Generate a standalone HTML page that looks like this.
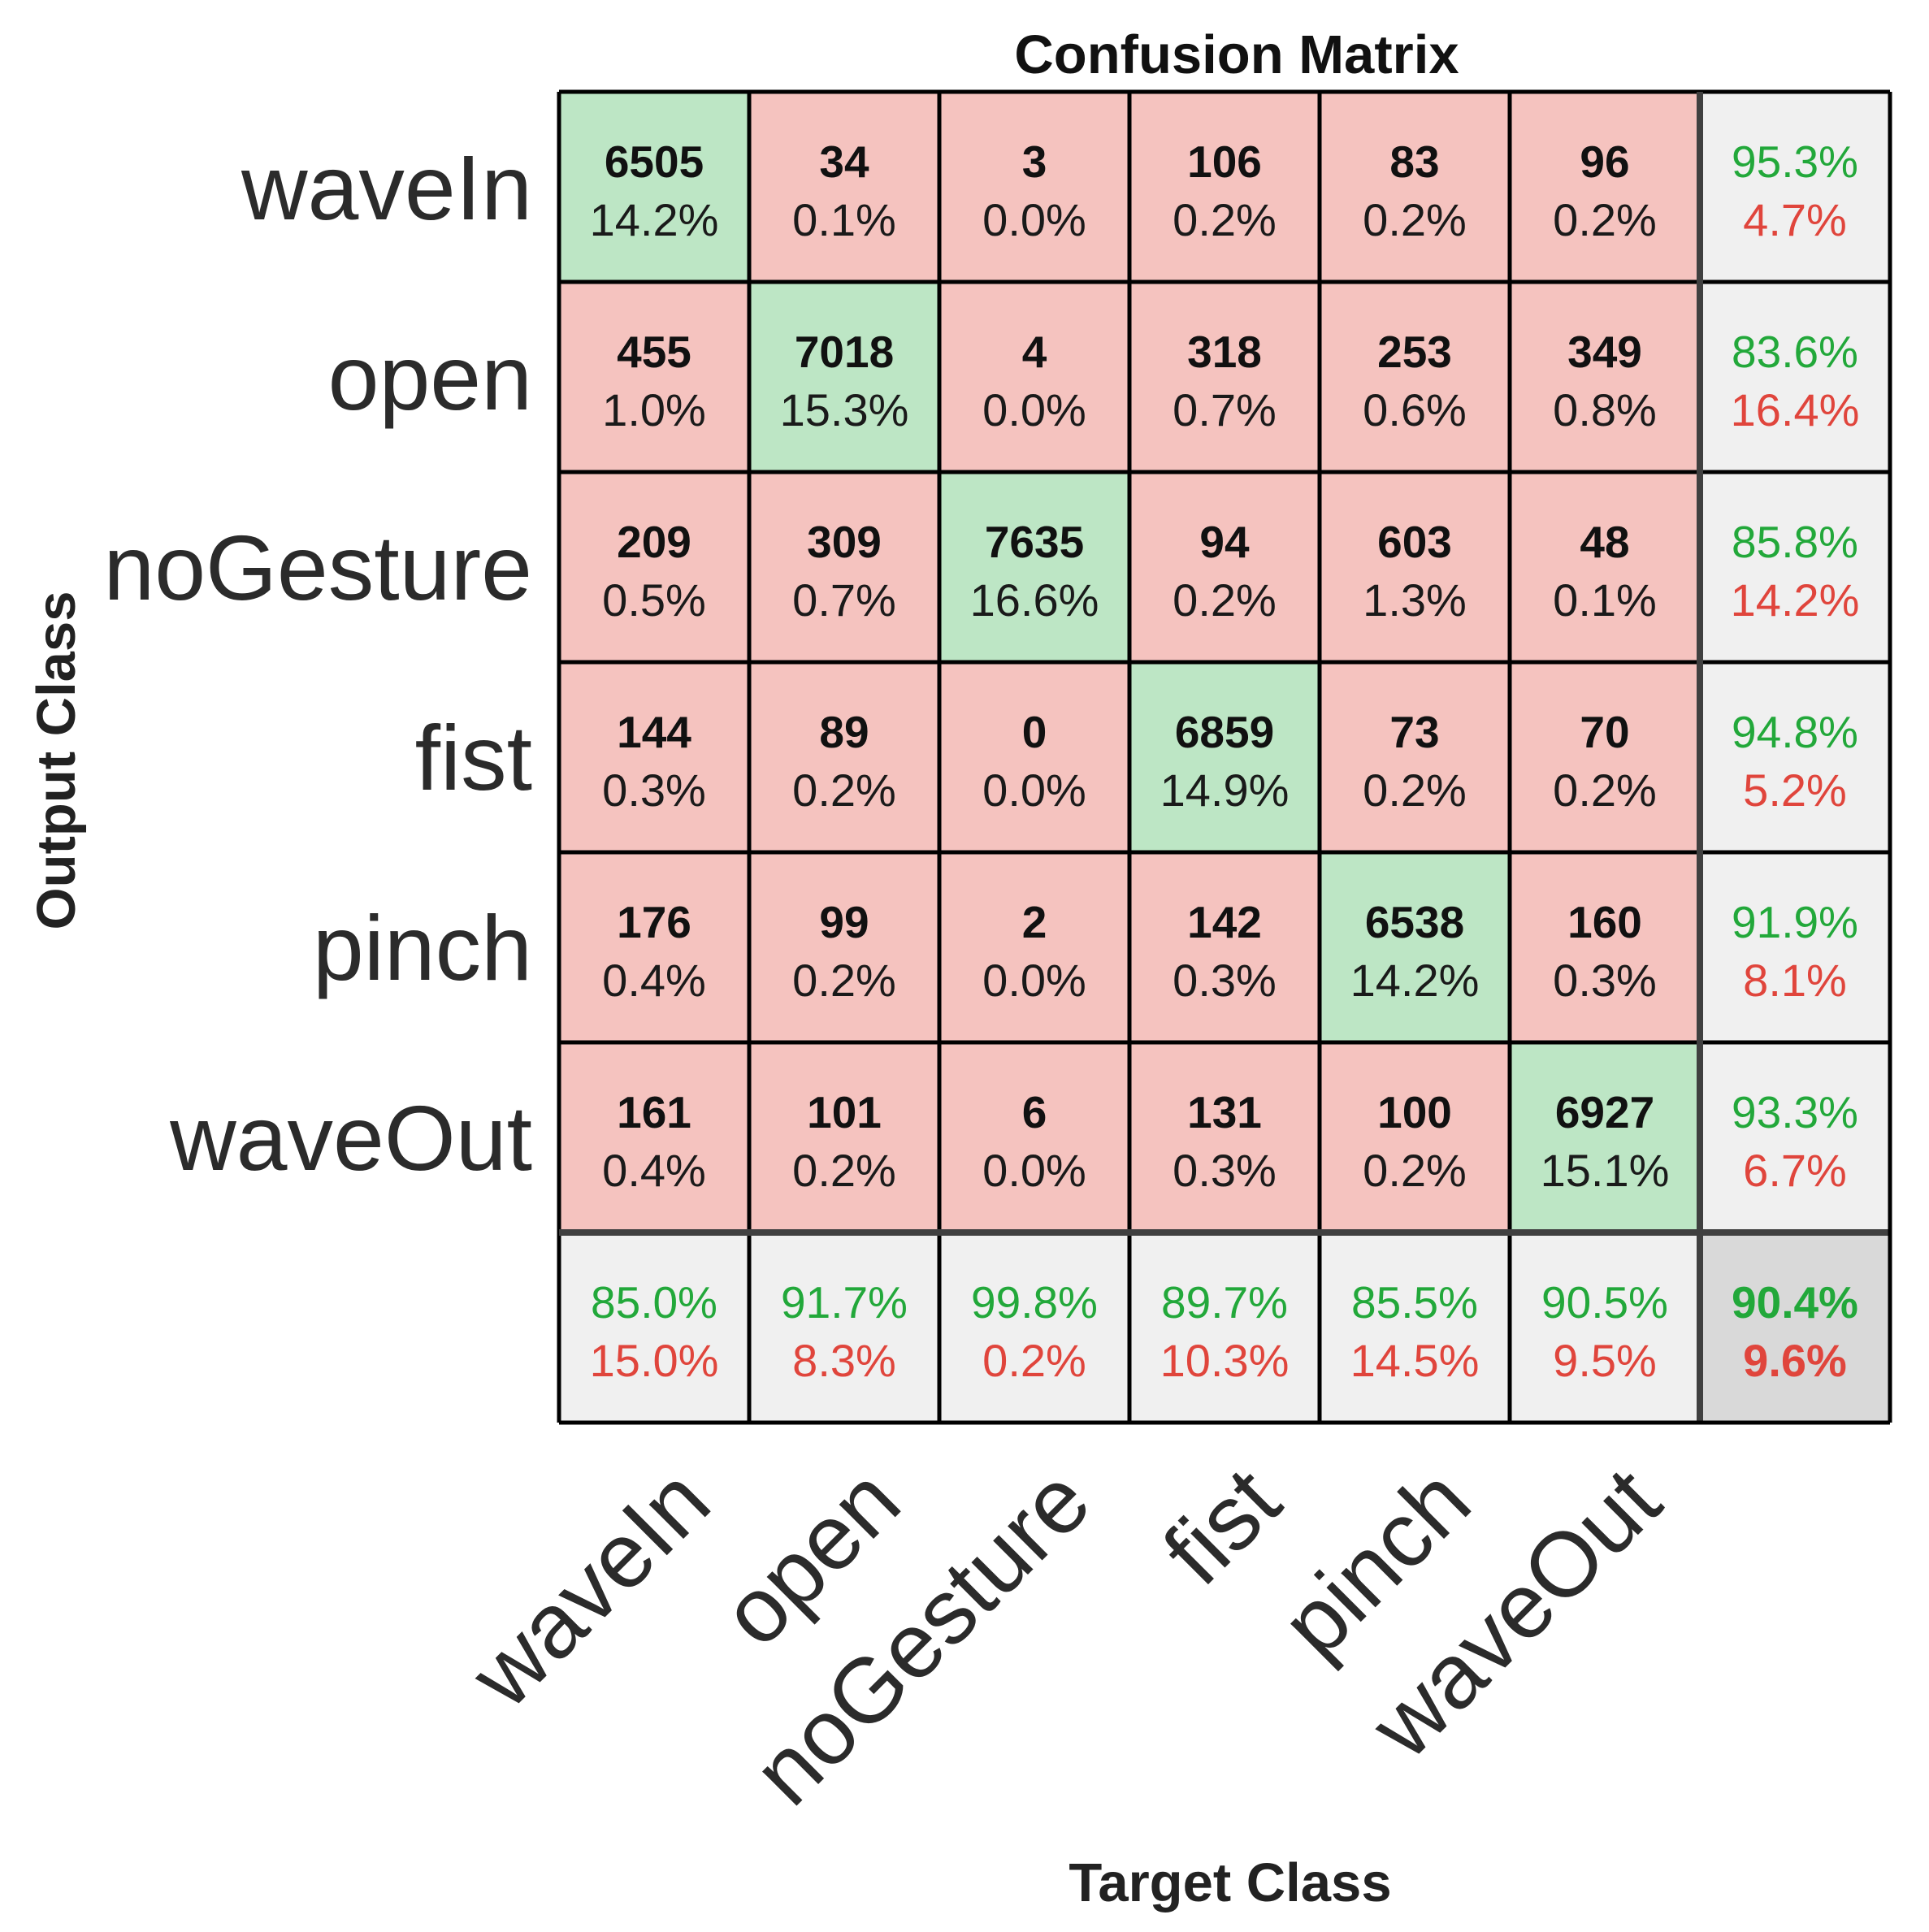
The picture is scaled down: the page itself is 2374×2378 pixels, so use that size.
<!DOCTYPE html>
<html><head><meta charset="utf-8"><style>html,body{margin:0;padding:0;background:#fff}svg{display:block}</style></head>
<body>
<svg id="chart" width="2374" height="2378" viewBox="0 0 2374 2378" xmlns="http://www.w3.org/2000/svg" font-family="Liberation Sans, Arial, sans-serif">
<text x="1522" y="90" font-size="67" font-weight="bold" text-anchor="middle" fill="#111">Confusion Matrix</text>
<text transform="translate(92,936) rotate(-90)" font-size="67" font-weight="bold" text-anchor="middle" fill="#222">Output Class</text>
<text x="1514" y="2340" font-size="67" font-weight="bold" text-anchor="middle" fill="#222">Target Class</text>
<g id="cells"></g>
<g id="lines"></g>
<g id="labels"></g>
</svg>
<script>
const classes = ["waveIn","open","noGesture","fist","pinch","waveOut"];
const counts = [
 [6505,34,3,106,83,96],
 [455,7018,4,318,253,349],
 [209,309,7635,94,603,48],
 [144,89,0,6859,73,70],
 [176,99,2,142,6538,160],
 [161,101,6,131,100,6927]
];
const cellPct = [
 ["14.2%","0.1%","0.0%","0.2%","0.2%","0.2%"],
 ["1.0%","15.3%","0.0%","0.7%","0.6%","0.8%"],
 ["0.5%","0.7%","16.6%","0.2%","1.3%","0.1%"],
 ["0.3%","0.2%","0.0%","14.9%","0.2%","0.2%"],
 ["0.4%","0.2%","0.0%","0.3%","14.2%","0.3%"],
 ["0.4%","0.2%","0.0%","0.3%","0.2%","15.1%"]
];
const rowGood = ["95.3%","83.6%","85.8%","94.8%","91.9%","93.3%"];
const rowBad = ["4.7%","16.4%","14.2%","5.2%","8.1%","6.7%"];
const colGood = ["85.0%","91.7%","99.8%","89.7%","85.5%","90.5%"];
const colBad = ["15.0%","8.3%","0.2%","10.3%","14.5%","9.5%"];
const totalGood = "90.4%";
const totalBad = "9.6%";

const NS = "http://www.w3.org/2000/svg";
const X0 = 688, Y0 = 113, C = 234, N = classes.length;
const xPos = i => X0 + i * C;
const yPos = i => Y0 + i * C;
const GREEN = "#22a83a", RED = "#e0453c";
function mk(tag, attrs, parent, txt){
  const e = document.createElementNS(NS, tag);
  for (const k in attrs) e.setAttribute(k, attrs[k]);
  if (txt !== undefined) e.textContent = txt;
  parent.appendChild(e); return e;
}
const gC = document.getElementById("cells"), gL = document.getElementById("lines"), gT = document.getElementById("labels");
function cell(r, c, fill, l1, l2, col1, col2, bold1, bold2, name){
  const x = xPos(c), y = yPos(r);
  const g = mk("g", {}, gC);
  
  
  mk("rect", {x:x, y:y, width:C, height:C, fill:fill}, g);
  mk("text", {x:x+C/2, y:y+105, "font-size":55, "font-weight":bold1?"bold":"normal", fill:col1, "text-anchor":"middle"}, g, l1);
  mk("text", {x:x+C/2, y:y+177, "font-size":56, "font-weight":bold2?"bold":"normal", fill:col2, "text-anchor":"middle"}, g, l2);
}
for (let r = 0; r < N; r++) {
  for (let c = 0; c < N; c++) {
    cell(r, c, r===c ? "#bde6c5" : "#f5c3bf", String(counts[r][c]), cellPct[r][c], "#111", "#1a1a1a", true, false, "cell-" + r + "-" + c);
  }
  cell(r, N, "#f0f0f0", rowGood[r], rowBad[r], GREEN, RED, false, false, "row-summary-" + r);
}
for (let c = 0; c < N; c++) cell(N, c, "#f0f0f0", colGood[c], colBad[c], GREEN, RED, false, false, "col-summary-" + c);
cell(N, N, "#d9d9d9", totalGood, totalBad, GREEN, RED, true, true, "overall-accuracy");

for (let i = 0; i <= N + 1; i++) {
  const sep = (i === N);
  const w = sep ? 8 : 5, col = sep ? "#404040" : "#000";
  mk("line", {x1:xPos(i), y1:Y0, x2:xPos(i), y2:yPos(N+1), stroke:col, "stroke-width":w}, gL);
  mk("line", {x1:X0, y1:yPos(i), x2:xPos(N+1), y2:yPos(i), stroke:col, "stroke-width":w}, gL);
}
classes.forEach((name, i) => {
  const t = mk("text", {x:655, y:yPos(i)+C/2+40, "font-size":113, fill:"#2b2b2b", "text-anchor":"end"}, gT, name);
  
  
  const cx = xPos(i) + C/2 + 75, cy = 1855;
  const u = mk("text", {transform:"translate(" + cx + "," + cy + ") rotate(-45)", "font-size":113, fill:"#2b2b2b", "text-anchor":"end"}, gT, name);
  
  
});
</script>
</body></html>
